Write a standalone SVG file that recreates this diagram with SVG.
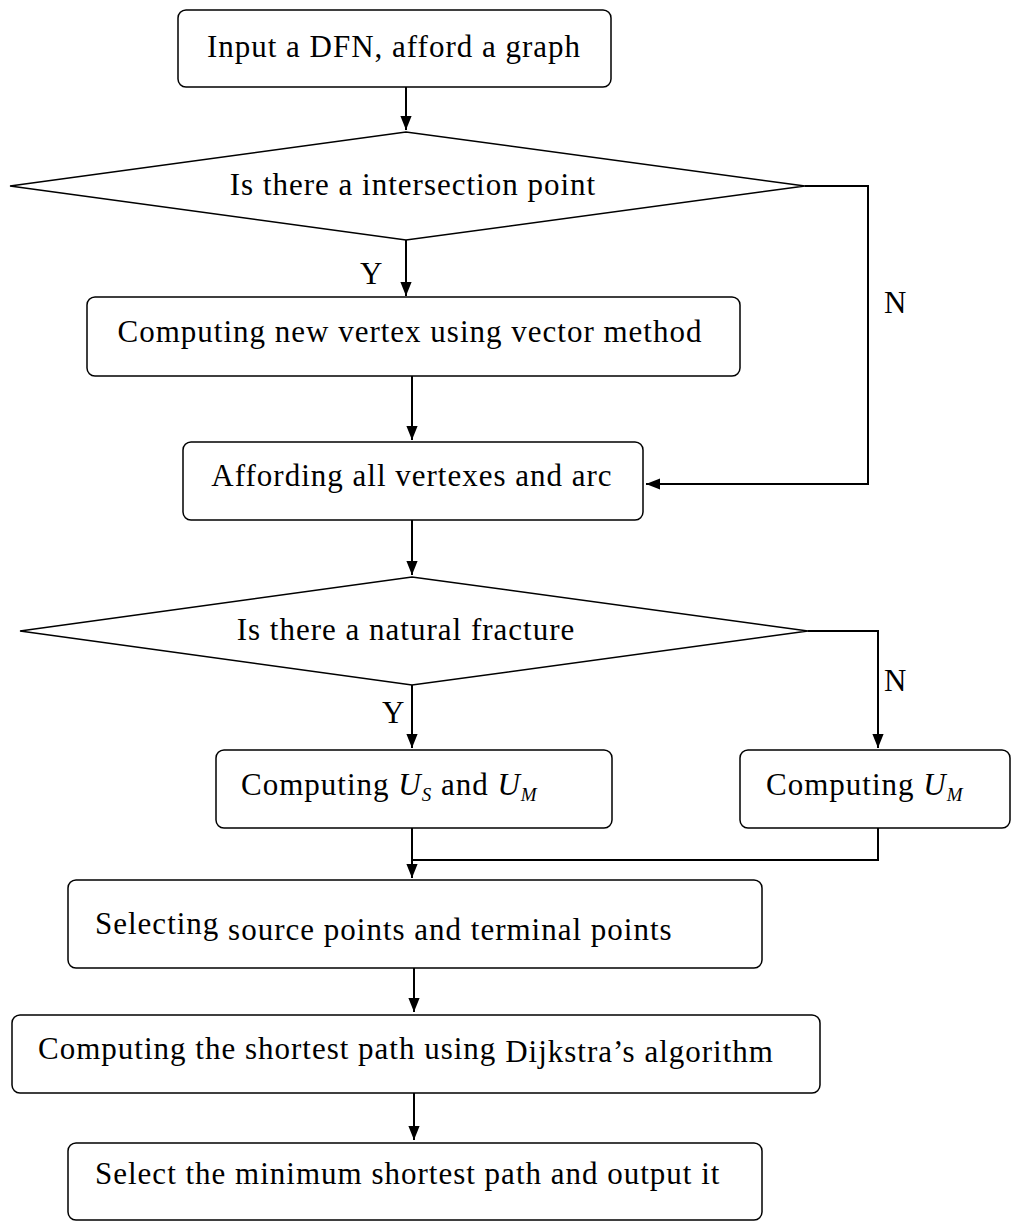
<svg xmlns="http://www.w3.org/2000/svg" width="1024" height="1228" viewBox="0 0 1024 1228">
<style>
.n{fill:#fff;stroke:#000;stroke-width:1.5}
.c{fill:none;stroke:#000;stroke-width:2}
text{font-family:"Liberation Serif",serif;font-size:31px;letter-spacing:1px;fill:#000}
.m{text-anchor:middle}
</style>
<defs><marker id="b" viewBox="0 0 10 10" refX="10" refY="5" markerWidth="14" markerHeight="14" markerUnits="userSpaceOnUse" orient="auto"><path d="M0,1L10,5L0,9z"/></marker></defs>
<rect width="1024" height="1228" fill="#fff"/>
<g id="connectors">
<path class="c" d="M406,87V130" marker-end="url(#b)"/>
<path class="c" d="M406,240V296" marker-end="url(#b)"/>
<path class="c" d="M805,186H868V484H646" marker-end="url(#b)"/>
<path class="c" d="M412,376V440" marker-end="url(#b)"/>
<path class="c" d="M412,520V575" marker-end="url(#b)"/>
<path class="c" d="M412,685V748" marker-end="url(#b)"/>
<path class="c" d="M808,631H878V748" marker-end="url(#b)"/>
<path class="c" d="M412,828V878" marker-end="url(#b)"/>
<path class="c" d="M878,828V860H412"/>
<path class="c" d="M414,968V1012" marker-end="url(#b)"/>
<path class="c" d="M414,1093V1140" marker-end="url(#b)"/>
<text x="360" y="284">Y</text>
<text x="884" y="313">N</text>
<text x="382" y="723">Y</text>
<text x="884" y="691">N</text>
</g>
<g id="n1"><rect class="n" x="178" y="10" width="433" height="77" rx="8"/><text class="m" x="394" y="57">Input a DFN, afford a graph</text></g>
<g id="d1"><polygon class="n" points="10,186 406,132 805,186 406,240"/><text class="m" x="413" y="195">Is there a intersection point</text></g>
<g id="n2"><rect class="n" x="87" y="297" width="653" height="79" rx="8"/><text class="m" x="410" y="342">Computing new vertex using vector method</text></g>
<g id="n3"><rect class="n" x="183" y="442" width="460" height="78" rx="8"/><text class="m" x="412" y="486">Affording all vertexes and arc</text></g>
<g id="d2"><polygon class="n" points="20,631 412,577 808,631 412,685"/><text class="m" x="406" y="640">Is there a natural fracture</text></g>
<g id="n4"><rect class="n" x="216" y="750" width="396" height="78" rx="8"/><text x="241" y="795">Computing <tspan font-style="italic">U</tspan><tspan font-style="italic" font-size="19" dy="6">S</tspan><tspan dy="-6"> and </tspan><tspan font-style="italic">U</tspan><tspan font-style="italic" font-size="19" dy="6">M</tspan></text></g>
<g id="n5"><rect class="n" x="740" y="750" width="270" height="78" rx="8"/><text x="766" y="795">Computing <tspan font-style="italic">U</tspan><tspan font-style="italic" font-size="19" dy="6">M</tspan></text></g>
<g id="n6"><rect class="n" x="68" y="880" width="694" height="88" rx="8"/><text x="95" y="934">Selecting<tspan dy="6"> source points and terminal points</tspan></text></g>
<g id="n7"><rect class="n" x="12" y="1015" width="808" height="78" rx="8"/><text x="38" y="1059">Computing the shortest path using<tspan dy="3"> Dijkstra’s algorithm</tspan></text></g>
<g id="n8"><rect class="n" x="68" y="1143" width="694" height="77" rx="8"/><text x="95" y="1184">Select the minimum shortest path and output it</text></g>
</svg>
